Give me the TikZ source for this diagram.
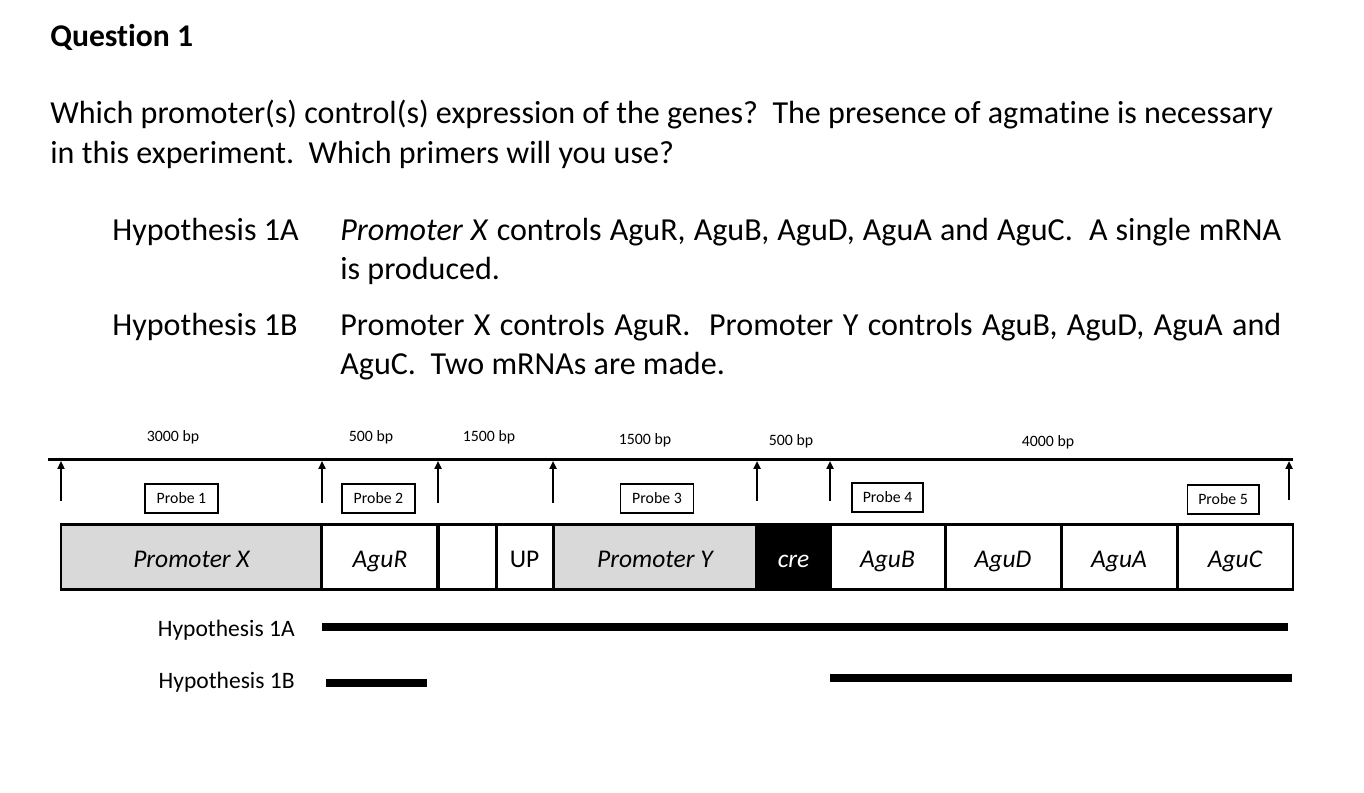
\documentclass[tikz,border=0pt]{standalone}
\usepackage{fontspec}
\setmainfont{Carlito}[Ligatures=NoCommon]
\usetikzlibrary{arrows.meta}

\definecolor{promgray}{RGB}{217,217,217}

\tikzset{
  bodytext/.style={anchor=base west, inner sep=0pt, font=\fontsize{18.25}{22}\selectfont},
  genebox/.style={draw, line width=1.7pt, minimum height=1.3cm, inner sep=0pt, outer sep=0pt,
    text height=12pt, text depth=0pt, anchor=west, font=\fontsize{14.5}{17}\selectfont\itshape},
  promoterbox/.style={genebox, fill=promgray},
  probebox/.style={draw, line width=0.6pt, minimum height=0.58cm, minimum width=1.46cm,
    inner sep=0pt, font=\fontsize{9}{11}\selectfont},
  bplabel/.style={inner sep=0pt, font=\fontsize{9}{11}\selectfont},
  hyplabel/.style={anchor=east, inner sep=0pt, font=\fontsize{13.4}{16}\selectfont},
  cutarrow/.style={-{Triangle[length=4.5pt,width=4pt]}, line width=1.1pt},
  mrnabar/.style={line width=4.5pt},
}

\begin{document}
\begin{tikzpicture}[x=0.02cm, y=-0.02cm]
    \useasboundingbox (0,0) rectangle (1364,792);

    % Fragetext
    \node[bodytext, font=\fontsize{18}{22}\selectfont\bfseries] (title) at (50,46) {Question 1};
    \node[bodytext] (q1) at (50,123) {Which promoter(s) control(s) expression of the genes?\ \ The presence of agmatine is necessary};
    \node[bodytext] (q2) at (50,163) {in this experiment.\ \ Which primers will you use?};

    \node[bodytext] (h1a) at (112,240) {Hypothesis 1A};
    \node[bodytext] (h1a1) at (340,240) {\makebox[18.82cm][s]{\textit{Promoter X} controls AguR, AguB, AguD, AguA and AguC.\ \ A single mRNA}};
    \node[bodytext] (h1a2) at (340,279) {is produced.};

    \node[bodytext] (h1b) at (112,335) {Hypothesis 1B};
    \node[bodytext] (h1b1) at (340,335) {\makebox[18.82cm][s]{Promoter X controls AguR.\ \ Promoter Y controls AguB, AguD, AguA and}};
    \node[bodytext] (h1b2) at (340,374) {AguC.\ \ Two mRNAs are made.};

    % Skala
    \coordinate (sL) at (48,459);
    \coordinate (sR) at (1293,459);
    \draw[line width=1.7pt] (sL) -- (sR);

    \node[bplabel] (bp1) at (173,437) {3000 bp};
    \node[bplabel] (bp2) at (371,437) {500 bp};
    \node[bplabel] (bp3) at (489,437) {1500 bp};
    \node[bplabel] (bp4) at (645,440) {1500 bp};
    \node[bplabel] (bp5) at (791,441) {500 bp};
    \node[bplabel] (bp6) at (1048,442) {4000 bp};

    % Schnittstellen
    \coordinate (c1) at (61,501);    \coordinate (c1t) at (61,461);
    \coordinate (c2) at (322,503);   \coordinate (c2t) at (322,461);
    \coordinate (c3) at (438,503);   \coordinate (c3t) at (438,461);
    \coordinate (c4) at (553,503);   \coordinate (c4t) at (553,461);
    \coordinate (c5) at (757,501);   \coordinate (c5t) at (757,461);
    \coordinate (c6) at (830,501);   \coordinate (c6t) at (830,461);
    \coordinate (c7) at (1289,500);  \coordinate (c7t) at (1289,461);
    \draw[cutarrow] (c1) -- (c1t);
    \draw[cutarrow] (c2) -- (c2t);
    \draw[cutarrow] (c3) -- (c3t);
    \draw[cutarrow] (c4) -- (c4t);
    \draw[cutarrow] (c5) -- (c5t);
    \draw[cutarrow] (c6) -- (c6t);
    \draw[cutarrow] (c7) -- (c7t);

    % Sonden
    \node[probebox] (p1) at (181.5,498.5) {Probe 1};
    \node[probebox] (p2) at (378.5,498.5) {Probe 2};
    \node[probebox] (p3) at (657,498.5) {Probe 3};
    \node[probebox, minimum width=1.42cm] (p4) at (887.5,497.5) {Probe 4};
    \node[probebox, minimum width=1.44cm] (p5) at (1223,499.5) {Probe 5};

    % Gene
    \node[promoterbox, minimum width=5.22cm] (promX) at (61,556.5) {Promoter X};
    \node[genebox, minimum width=2.32cm] (aguR) at (322,556.5) {AguR};
    \node[genebox, minimum width=1.16cm] (gap) at (438,556.5) {};
    \node[genebox, minimum width=1.14cm, font=\fontsize{14.5}{17}\selectfont] (up) at (496,556.5) {UP};
    \node[promoterbox, minimum width=4.08cm] (promY) at (553,556.5) {Promoter Y};
    \node[genebox, minimum width=1.46cm, fill=black, text=white] (cre) at (757,556.5) {cre};
    \node[genebox, minimum width=2.30cm] (aguB) at (830,556.5) {AguB};
    \node[genebox, minimum width=2.32cm] (aguD) at (945,556.5) {AguD};
    \node[genebox, minimum width=2.32cm] (aguA) at (1061,556.5) {AguA};
    \node[genebox, minimum width=2.32cm] (aguC) at (1177,556.5) {AguC};

    % mRNAs
    \node[hyplabel] (l1a) at (295,630) {Hypothesis 1A};
    \node[hyplabel] (l1b) at (295,682) {Hypothesis 1B};

    \coordinate (m1s) at (322,627);  \coordinate (m1e) at (1288,627);
    \coordinate (m2s) at (326,683);  \coordinate (m2e) at (427,683);
    \coordinate (m3s) at (830,678);  \coordinate (m3e) at (1292,678);
    \draw[mrnabar] (m1s) -- (m1e);
    \draw[mrnabar] (m2s) -- (m2e);
    \draw[mrnabar] (m3s) -- (m3e);
\end{tikzpicture}
\end{document}
